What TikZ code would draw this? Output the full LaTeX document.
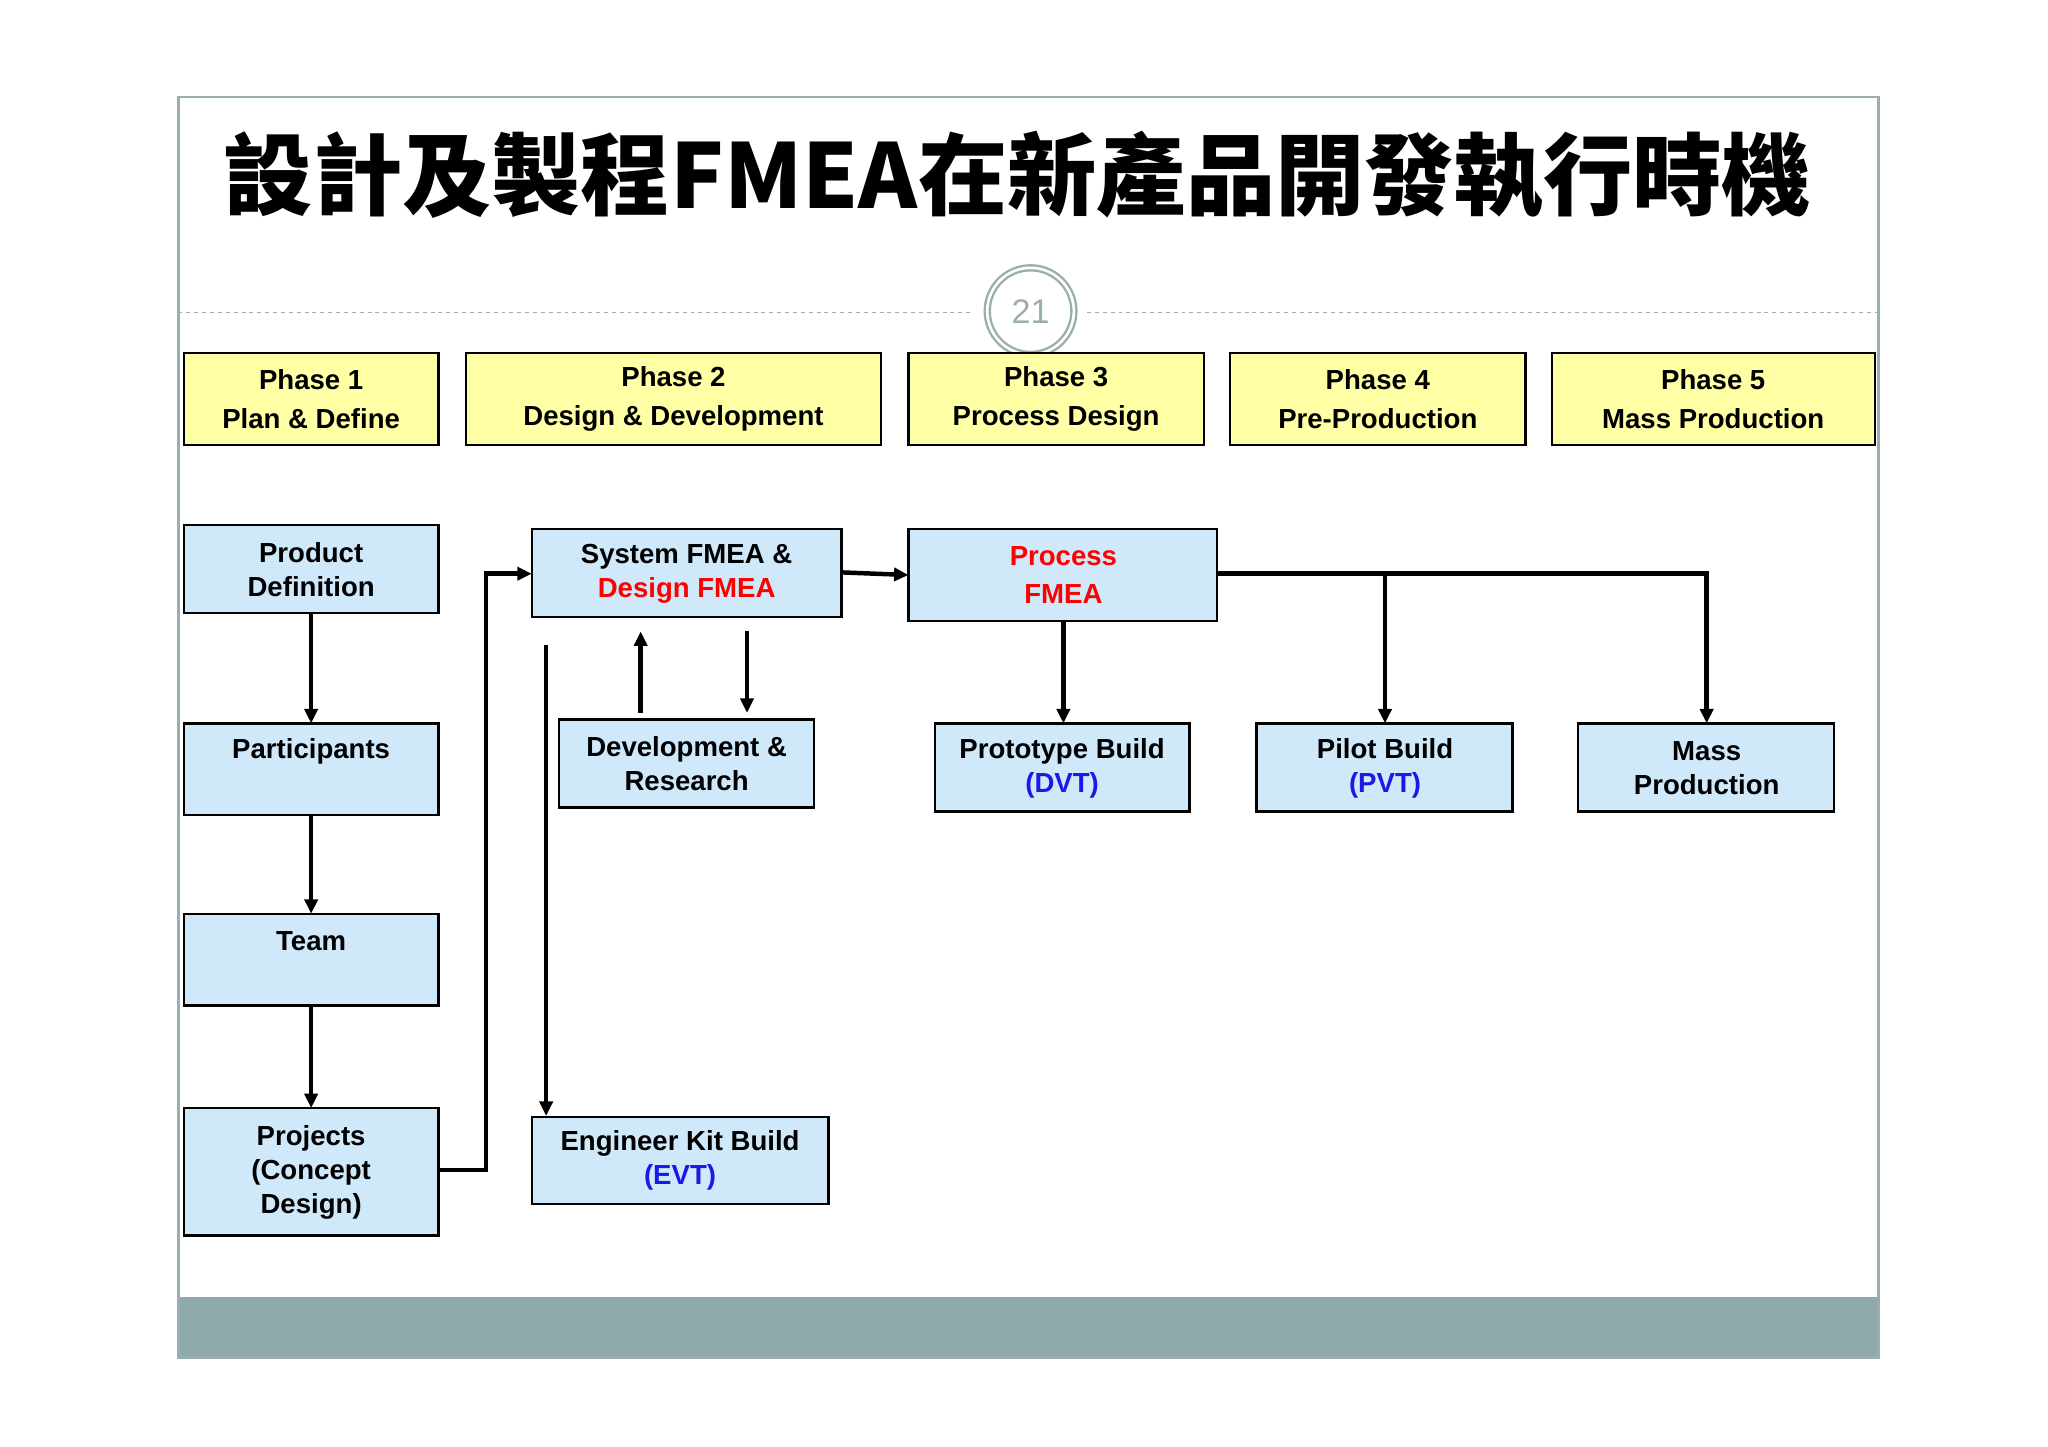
\documentclass[tikz,border=0pt]{standalone}
\usepackage{fontspec}
\setmainfont{Liberation Sans}
\newfontfamily\cjk{Noto Sans CJK TC}
\usetikzlibrary{arrows.meta}
\definecolor{ph}{HTML}{FFFFA6}
\definecolor{bx}{HTML}{CFE9FA}
\definecolor{band}{HTML}{8FAAAA}
\definecolor{frm}{HTML}{9AAEAE}
\definecolor{evt}{HTML}{1A1AE6}
\begin{document}
\begin{tikzpicture}[x=1pt,y=-1pt,
 box/.style={draw=black,line width=1.8pt},
 lbl/.style={font=\fontsize{21}{26}\selectfont\bfseries,align=center,inner sep=0pt},
 arr/.style={line width=3.4pt,-{Triangle[length=11pt,width=10pt]}},
 ln/.style={line width=3.4pt}]
\useasboundingbox (0,0) rectangle (1560,1102);
\fill[white] (0,0) rectangle (1560,1102);
\fill[band] (136,988) rectangle (1431,1034);
\draw[frm,line width=2pt] (136,74) rectangle (1431,1034);
\node[font=\cjk\fontsize{68}{74}\selectfont\bfseries,inner sep=0pt] (title) at (775,133) {設計及製程\textbf{FMEA}在新產品開發執行時機};
\draw[frm,dashed,line width=1.3pt] (136,238) -- (740,238);
\draw[frm,dashed,line width=1.3pt] (828,238) -- (1431,238);
\node[circle,draw=frm,line width=1.8pt,minimum size=66pt,double,double distance=2pt,fill=white,text=frm,font=\fontsize{26}{30}\selectfont] (num) at (785,237) {21};
% phases
\foreach \a/\b/\t/\s [count=\i] in {140/334/Phase 1/Plan \& Define,355/671/Phase 2/Design \& Development,692/917/Phase 3/Process Design,937/1162/Phase 4/Pre-Production,1182/1428/Phase 5/Mass Production}{
 \draw[box,fill=ph] (\a,269) rectangle (\b,339);
 \node[lbl] (ph\i) at ({(\a+\b)/2},304) {\t\\[4pt]\s};}
% blue boxes
\draw[box,fill=bx] (140,400) rectangle (334,467); \node[lbl] (pd) at (237,434) {Product\\Definition};
\draw[box,fill=bx] (140,551) rectangle (334,621); \node[lbl] (pa) at (237,572) {Participants};
\draw[box,fill=bx] (140,696) rectangle (334,766); \node[lbl] (tm) at (237,717) {Team};
\draw[box,fill=bx] (140,844) rectangle (334,941); \node[lbl] (pj) at (237,893) {Projects\\(Concept\\Design)};
\draw[box,fill=bx] (405,403) rectangle (641,470); \node[lbl] (sf) at (523,437) {System FMEA \&\\\textcolor{red}{Design FMEA}};
\draw[box,fill=bx] (426,548) rectangle (620,615); \node[lbl] (dr) at (523,582) {Development \&\\Research};
\draw[box,fill=bx] (405,851) rectangle (631,917); \node[lbl] (ek) at (518,884) {Engineer Kit Build\\\textcolor{evt}{(EVT)}};
\draw[box,fill=bx] (692,403) rectangle (927,473); \node[lbl,text=red] (pf) at (810,438) {Process\\[3pt]FMEA};
\draw[box,fill=bx] (712,551) rectangle (906,618); \node[lbl] (pb) at (809,585) {Prototype Build\\\textcolor{evt}{(DVT)}};
\draw[box,fill=bx] (957,551) rectangle (1152,618); \node[lbl] (pl) at (1055,585) {Pilot Build\\\textcolor{evt}{(PVT)}};
\draw[box,fill=bx] (1202,551) rectangle (1397,618); \node[lbl] (mp) at (1300,585) {Mass\\Production};
% connectors
\coordinate (a1) at (237,467); \coordinate (a2) at (237,551);
\coordinate (b1) at (237,621); \coordinate (b2) at (237,696);
\coordinate (c1) at (237,766); \coordinate (c2) at (237,844);
\draw[arr] (a1) -- (a2); \draw[arr] (b1) -- (b2); \draw[arr] (c1) -- (c2);
\coordinate (p1) at (334,891); \coordinate (p2) at (405,437);
\draw[arr] (p1) -- (370,891) -- (370,437) -- (p2);
\coordinate (s1) at (641,436); \coordinate (s2) at (692,438);
\draw[arr] (s1) -- (s2);
\coordinate (u1) at (488,543); \coordinate (u2) at (488,481);
\coordinate (d1) at (569,481); \coordinate (d2) at (569,543);
\draw[arr] (u1) -- (u2); \draw[arr] (d1) -- (d2);
\coordinate (e1) at (416,491); \coordinate (e2) at (416,850);
\draw[arr] (e1) -- (e2);
\coordinate (f1) at (810,473); \coordinate (f2) at (810,551);
\draw[arr] (f1) -- (f2);
\coordinate (g0) at (927,437); \coordinate (g1) at (1055,551); \coordinate (g2) at (1300,551);
\draw[arr] (g0) -- (1300,437) -- (g2);
\draw[arr] (1055,437) -- (g1);
\end{tikzpicture}
\end{document}
